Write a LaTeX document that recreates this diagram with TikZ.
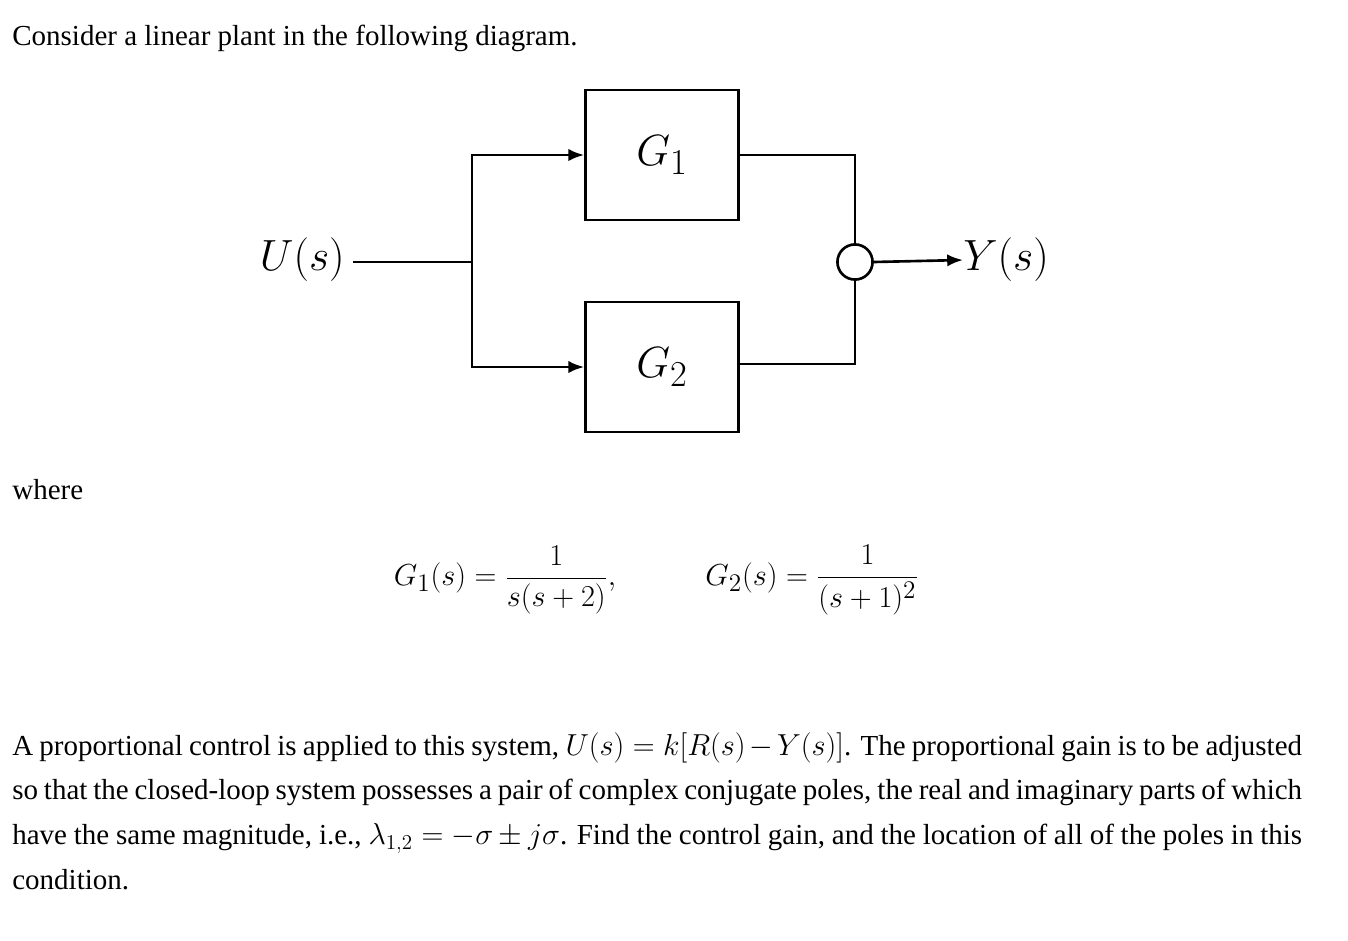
\documentclass[tikz,border=0pt]{standalone}
\usepackage{amsmath}
\usepackage{fontspec}
\setmainfont{Liberation Serif}
\usetikzlibrary{arrows.meta}
\begin{document}
\begin{tikzpicture}[x=0.02cm,y=-0.02cm,
  blk/.style={draw,line width=1.5pt,minimum width=3.06cm,minimum height=2.6cm,inner sep=0pt,font=\fontsize{30}{36}\selectfont},
  wire/.style={line width=1.5pt},
  arr/.style={wire,-{Latex[length=9pt,width=7pt]}},
  txt/.style={inner sep=0pt,font=\fontsize{16.5}{20}\selectfont}]
\useasboundingbox (0,0) rectangle (1348,940);
\node[txt,anchor=west] (title) at (12,38) {Consider a linear plant in the following diagram.};
\node[blk] (g1) at (662,155) {$G_1$};
\node[blk] (g2) at (662,367) {$G_2$};
\node[inner sep=0pt,anchor=east,font=\fontsize{30}{36}\selectfont] (u) at (345,260) {$U(s)$};
\node[draw,circle,line width=1.5pt,minimum size=20pt,inner sep=0pt] (sum) at (855,262) {};
\node[inner sep=0pt,anchor=west,font=\fontsize{30}{36}\selectfont] (y) at (963,260) {$Y(s)$};
\coordinate (split) at (472,262);
\draw[wire] (u.east)++(8,2) -- (split);
\draw[arr] (split) |- (g1.west);
\draw[arr] (split) |- (g2.west);
\draw[wire] (g1.east) -| (sum.north);
\draw[wire] (g2.east |- 0,364) -| (sum.south);
\draw[arr] (sum.east) -- (y.west);
\node[txt,anchor=west] (where) at (12,490) {where};
\node[inner sep=0pt,font=\fontsize{19}{22}\selectfont] (eq1) at (505,580) {$G_1(s)=\dfrac{1}{s(s+2)},$};
\node[inner sep=0pt,font=\fontsize{19}{22}\selectfont] (eq2) at (812,580) {$G_2(s)=\dfrac{1}{(s+1)^2}$};
\node[txt,anchor=north west,text width=25.8cm,align=justify,font=\fontsize{16.5}{25.5}\selectfont] (par) at (12,732)
{A proportional control is applied to this system, $U(s)=k[R(s)-Y(s)]$. The proportional gain is to be adjusted so that the closed-loop system possesses a pair of complex conjugate poles, the real and imaginary parts of which have the same magnitude, i.e., $\lambda_{1,2}=-\sigma\pm j\sigma$. Find the control gain, and the location of all of the poles in this condition.};
\end{tikzpicture}
\end{document}
